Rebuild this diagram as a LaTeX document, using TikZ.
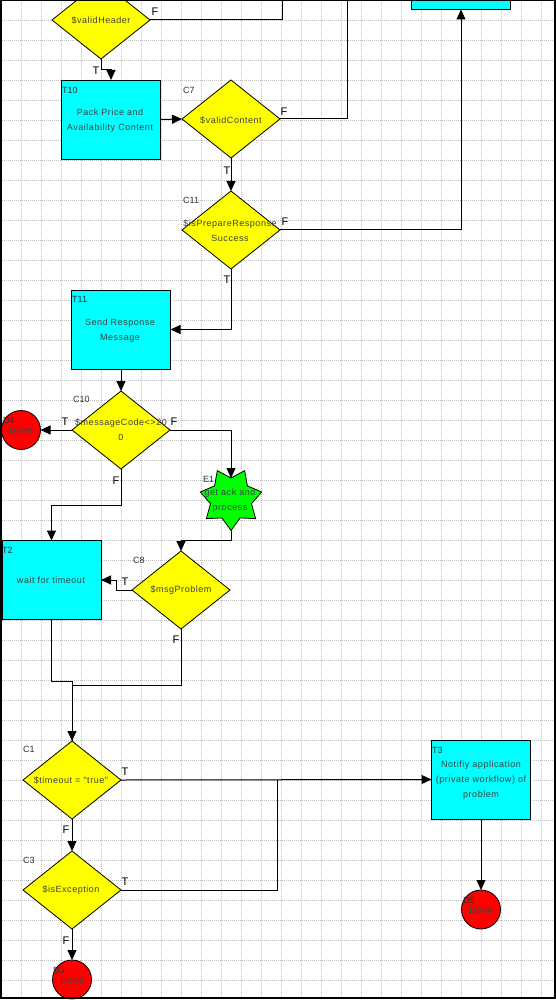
\documentclass[tikz,border=0pt]{standalone}
\usepackage{fontspec}
\setmainfont{Liberation Sans}
\newfontfamily\spacedfont[LetterSpace=6]{Liberation Sans}
\usetikzlibrary{shapes.geometric,arrows.meta}
\definecolor{labelgray}{HTML}{404040}
\definecolor{taggray}{HTML}{303030}
\definecolor{gridgray}{HTML}{C0C0C0}
\definecolor{boxcyan}{HTML}{00FFFF}
\definecolor{diayellow}{HTML}{FFFF00}
\definecolor{donered}{HTML}{FF0000}
\definecolor{stargreen}{HTML}{00FF00}
\begin{document}
\begin{tikzpicture}[x=1pt,y=-1pt,
  gridline/.style={gridgray,line width=0.6pt,dash pattern=on 1pt off 1pt},
  dia/.style={diamond,draw,line width=0.8pt,fill=diayellow,minimum width=98pt,minimum height=78pt,inner sep=0pt,outer sep=0pt},
  task/.style={rectangle,draw,line width=0.8pt,fill=boxcyan,minimum width=99pt,minimum height=79pt,inner sep=0pt,outer sep=0pt},
  done/.style={circle,draw,line width=0.8pt,fill=donered,minimum size=39pt,inner sep=0pt,outer sep=0pt},
  txt/.style={font=\spacedfont\fontsize{9}{15}\selectfont,text=labelgray,align=center,inner sep=0pt},
  tag/.style={font=\fontsize{9}{10}\selectfont,text=taggray,anchor=west,inner sep=0pt},
  tf/.style={font=\fontsize{11}{12}\selectfont,inner sep=0pt},
  con/.style={line width=1pt},
  arr/.style={line width=1pt,-{Triangle[length=10pt,width=9pt]}}]
\useasboundingbox (0,0) rectangle (556,1000);
\fill[white] (0,0) rectangle (556,1000);
\begin{scope}
\clip (0,0) rectangle (556,1000);
% grid
\foreach \x in {1,21,...,541} \draw[gridline] (\x,0) -- (\x,1000);
\foreach \y in {20,40,...,980} \draw[gridline] (0,\y) -- (556,\y);
% shapes
\node[dia] (vh) at (101,20) {};
\node[task] (t10) at (111,119.5) {};
\node[dia] (c7) at (231,119) {};
\node[task] (top) at (461,-30) {};
\node[dia] (c11) at (231,230) {};
\node[task] (t11) at (121,329.5) {};
\node[dia] (c10) at (121,430) {};
\node[done] (d4) at (21,430) {};
\node[star,star points=7,star point ratio=1.5,shape border rotate=180,draw,line width=0.8pt,fill=stargreen,minimum size=63pt,inner sep=0pt,outer sep=0pt] (e1) at (231,499) {};
\node[task] (t2) at (51.5,580) {};
\node[dia] (c8) at (181,590) {};
\node[dia] (c1) at (72,780) {};
\node[dia] (c3) at (72,890) {};
\node[done] (d3) at (72,979.5) {};
\node[task] (t3) at (481,779.5) {};
\node[done] (d5) at (481,909.5) {};
% free ends
\coordinate (vhF) at (282,0);
\coordinate (c7F) at (347,0);
\coordinate (j3) at (277,780);
% connectors
\draw[con] (vh.east) -| (vhF);
\draw[arr] (vh.south) -- ++(0,11) -| (t10.north);
\draw[arr] (t10.east) -- (c7.west);
\draw[con] (c7.east) -| (c7F);
\draw[arr] (c7.south) -- (c11.north);
\draw[arr] (c11.east) -| (top.south);
\draw[arr] (c11.south) |- (t11.east);
\draw[arr] (t11.south) -- (c10.north);
\draw[arr] (c10.west) -- (d4.east);
\draw[arr] (c10.east) -| (e1.north);
\draw[arr] (c10.south) -- ++(0,36) -| (t2.north);
\draw[arr] (e1.south) -- ++(0,10) -| (c8.north);
\draw[arr] (c8.west) -- ++(-16,0) |- (t2.east);
\draw[arr] (t2.south) -- ++(0,62) -| (c1.north);
\draw[con] (c8.south) -- ++(0,56) -| (c1.north);
\draw[arr] (c1.east) -- (t3.west);
\draw[con] (c3.east) -| (j3);
\draw[arr] (c1.south) -- (c3.north);
\draw[arr] (c3.south) -- (d3.north);
\draw[arr] (t3.south) -- (d5.north);
% texts in shapes
\node[txt] (vhtxt) at (101,20) {\$validHeader};
\node[txt] (t10txt) at (110,121) {Pack Price and\\Availability Content};
\node[txt] (c7txt) at (231,120) {\$validContent};
\node[txt] (c11txt) at (230,231) {\$isPrepareResponse\\Success};
\node[txt] (t11txt) at (120,331) {Send Response\\Message};
\node[txt] (c10txt) at (121,430) {\$messageCode<>20\\0};
\node[txt] (d4txt) at (21,430) {Done};
\node[txt] (e1txt) at (230,501) {get ack and\\process};
\node[txt] (t2txt) at (51,580) {wait for timeout};
\node[txt] (c8txt) at (181,590) {\$msgProblem};
\node[txt] (c1txt) at (71,780) {\$timeout = "true"};
\node[txt] (c3txt) at (71,890) {\$isException};
\node[txt] (t3txt) at (481,780) {Notifiy application\\(private workflow) of\\problem};
\node[txt] (d3txt) at (72,980) {Done};
\node[txt] (d5txt) at (481,910) {Done};
% name tags
\node[tag] (t10tag) at (62,90) {T10};
\node[tag] (c7tag) at (183,90) {C7};
\node[tag] (c11tag) at (183,200) {C11};
\node[tag] (t11tag) at (72,299) {T11};
\node[tag] (c10tag) at (73,399) {C10};
\node[tag] (d4tag) at (3,420) {D4};
\node[tag] (e1tag) at (203,479) {E1};
\node[tag] (t2tag) at (2,550) {T2};
\node[tag] (c8tag) at (133,560) {C8};
\node[tag] (c1tag) at (23,749) {C1};
\node[tag] (c3tag) at (23,860) {C3};
\node[tag] (t3tag) at (432,750) {T3};
\node[tag] (d3tag) at (53,970) {D3};
\node[tag] (d5tag) at (463,900) {D5};
% T/F labels
\node[tf] (vhF-l) at (155,12) {F};
\node[tf] (vhT-l) at (96,71) {T};
\node[tf] (c7F-l) at (284,112) {F};
\node[tf] (c7T-l) at (227,171) {T};
\node[tf] (c11F-l) at (285,222) {F};
\node[tf] (c11T-l) at (227,280) {T};
\node[tf] (c10T-l) at (65,422) {T};
\node[tf] (c10F-l) at (174,422) {F};
\node[tf] (c10F2-l) at (116,481) {F};
\node[tf] (c8T-l) at (125,582) {T};
\node[tf] (c8F-l) at (176,640) {F};
\node[tf] (c1T-l) at (125,772) {T};
\node[tf] (c1F-l) at (66,830) {F};
\node[tf] (c3T-l) at (125,882) {T};
\node[tf] (c3F-l) at (66,941) {F};
\end{scope}
% frame
\draw[line width=1.5pt] (0.75,0.75) rectangle (555,998);
\end{tikzpicture}
\end{document}
